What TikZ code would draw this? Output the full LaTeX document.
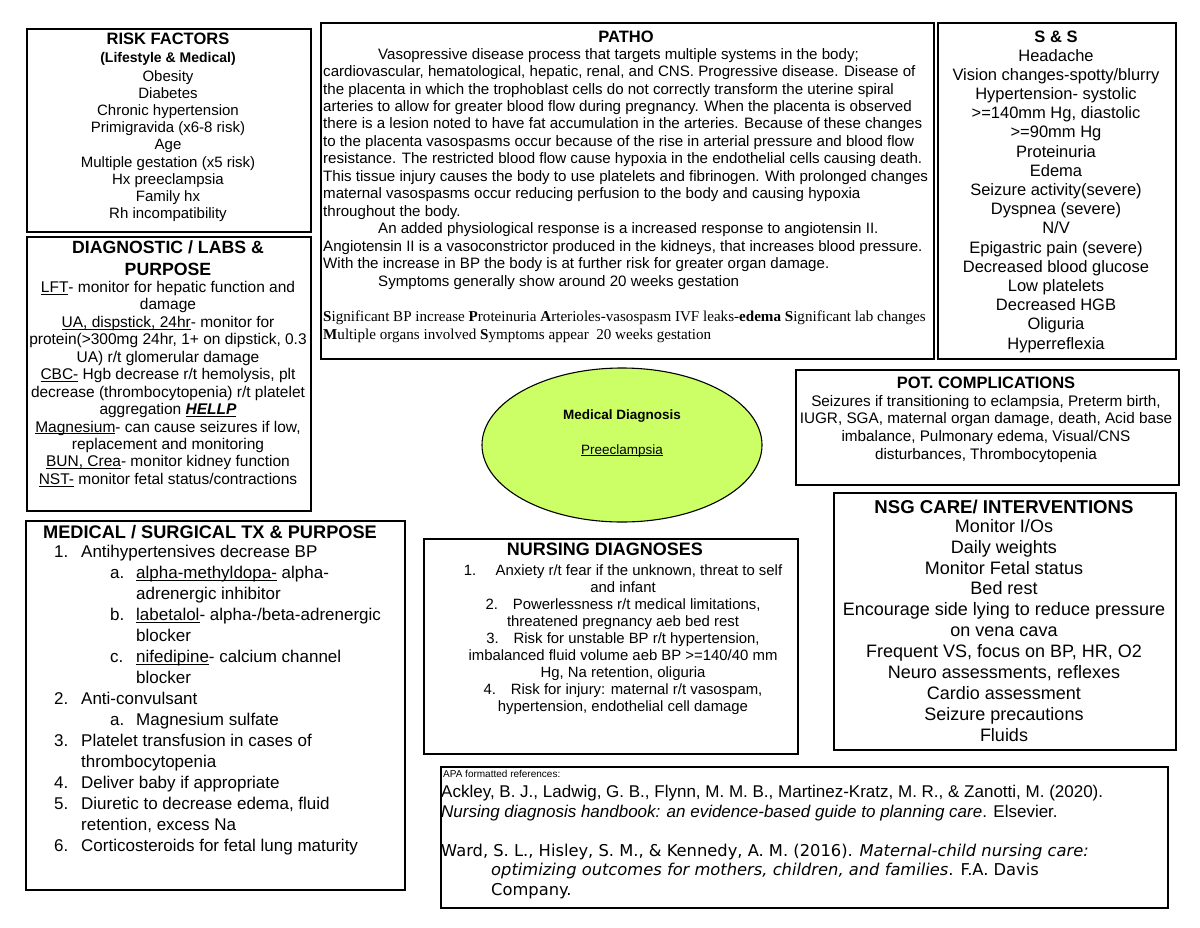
\documentclass[tikz,border=0pt]{standalone}
\usepackage{fontspec}
\setmainfont{Liberation Sans}
\newfontfamily\timesfont{Liberation Serif}
\newfontfamily\verdfont{DejaVu Sans}
\usepackage{xcolor}
\usetikzlibrary{positioning,shapes.geometric}
\definecolor{limefill}{RGB}{204,255,102}
\newcommand{\fsz}[2]{\fontsize{#1}{#2}\selectfont}
\newcommand{\ulx}[1]{\underline{\smash{#1}}}

\begin{document}
\begin{tikzpicture}[
  x=1pt,y=-1pt,
  panel/.style={draw,line width=1.6pt,anchor=north west,inner sep=0pt},
  head/.style={font=\bfseries\fsz{16.5}{22},align=center,inner sep=0pt,anchor=north},
  body/.style={align=center,inner sep=0pt,anchor=north},
  lbody/.style={align=left,inner sep=0pt,anchor=north west}
]
\fill[white] (0,0) rectangle (1200,927);
\useasboundingbox (0,0) rectangle (1200,927);

\node[panel,minimum width=284pt,minimum height=203pt] (risk) at (26,28) {};
\node[panel,minimum width=284pt,minimum height=274pt] (diag) at (26,236) {};
\node[panel,minimum width=379pt,minimum height=369pt] (med) at (25,520) {};
\node[panel,minimum width=613pt,minimum height=336pt] (patho) at (320,22) {};
\node[panel,minimum width=238pt,minimum height=336pt] (ss) at (937,22) {};
\node[panel,minimum width=383pt,minimum height=115pt] (pot) at (795,369) {};
\node[panel,minimum width=342pt,minimum height=257pt] (nsg) at (833,492) {};
\node[panel,minimum width=374pt,minimum height=215pt] (nd) at (423,538) {};
\node[panel,minimum width=727pt,minimum height=141pt] (refs) at (440,766) {};
\node[ellipse,draw,line width=1.1pt,fill=limefill,minimum width=280pt,minimum height=154pt] (dx) at (622,445) {};

\node[head] (riskHead) at (168,33) {RISK FACTORS};
\node[body,font=\bfseries\fsz{14}{16}] (riskSub) at (168,52) {(Lifestyle \& Medical)};
\node[body,font=\fsz{15}{17.2}] (riskList) at (168,70) {Obesity\\Diabetes\\Chronic hypertension\\
  Primigravida (x6-8 risk)\\Age\\Multiple gestation (x5 risk)\\Hx preeclampsia\\Family hx\\
  Rh incompatibility};

\node[head,font=\bfseries\fsz{17.7}{22}] (diagHead) at (168,240) {DIAGNOSTIC / LABS \&\\PURPOSE};
\node[body,font=\fsz{15.5}{17.45}] (diagList) at (168,281) {%
  \ulx{LFT}- monitor for hepatic function and\\damage\\
  \ulx{UA, dispstick, 24hr}- monitor for\\protein(>300mg 24hr, 1+ on dipstick, 0.3\\
  UA) r/t glomerular damage\\\ulx{CBC-} Hgb decrease r/t hemolysis, plt\\
  decrease (thrombocytopenia) r/t platelet\\aggregation \textbf{\textit{\ulx{HELLP}}}\\
  \ulx{Magnesium}- can cause seizures if low,\\replacement and monitoring\\
  \ulx{BUN, Crea}- monitor kidney function\\\ulx{NST-} monitor fetal status/contractions};

\node[head,font=\bfseries\fsz{18.2}{22}] (medHead) at (210,525) {MEDICAL / SURGICAL TX \& PURPOSE};
\node[lbody,font=\fsz{17}{21}] (medList) at (54,545) {%
  \makebox[27pt][l]{1.}Antihypertensives decrease BP\\
  \hspace*{56pt}\makebox[26pt][l]{a.}\ulx{alpha-methyldopa-} alpha-\\
  \hspace*{82pt}adrenergic inhibitor\\
  \hspace*{56pt}\makebox[26pt][l]{b.}\ulx{labetalol}- alpha-/beta-adrenergic\\
  \hspace*{82pt}blocker\\
  \hspace*{56pt}\makebox[26pt][l]{c.}\ulx{nifedipine}- calcium channel\\
  \hspace*{82pt}blocker\\
  \makebox[27pt][l]{2.}Anti-convulsant\\
  \hspace*{56pt}\makebox[26pt][l]{a.}Magnesium sulfate\\
  \makebox[27pt][l]{3.}Platelet transfusion in cases of\\
  \hspace*{27pt}thrombocytopenia\\
  \makebox[27pt][l]{4.}Deliver baby if appropriate\\
  \makebox[27pt][l]{5.}Diuretic to decrease edema, fluid\\
  \hspace*{27pt}retention, excess Na\\
  \makebox[27pt][l]{6.}Corticosteroids for fetal lung maturity};

\node[head] (pathoHead) at (626,31) {PATHO};
\node[lbody,font=\fsz{15.1}{17.46}] (pathoText) at (323,48) {%
  \hspace*{55pt}Vasopressive disease process that targets multiple systems in the body;\\
  cardiovascular, hematological, hepatic, renal, and CNS. Progressive disease. Disease of\\
  the placenta in which the trophoblast cells do not correctly transform the uterine spiral\\
  arteries to allow for greater blood flow during pregnancy. When the placenta is observed\\
  there is a lesion noted to have fat accumulation in the arteries. Because of these changes\\
  to the placenta vasospasms occur because of the rise in arterial pressure and blood flow\\
  resistance. The restricted blood flow cause hypoxia in the endothelial cells causing death.\\
  This tissue injury causes the body to use platelets and fibrinogen. With prolonged changes\\
  maternal vasospasms occur reducing perfusion to the body and causing hypoxia\\
  throughout the body.\\
  \hspace*{55pt}An added physiological response is a increased response to angiotensin II.\\
  Angiotensin II is a vasoconstrictor produced in the kidneys, that increases blood pressure.\\
  With the increase in BP the body is at further risk for greater organ damage.\\
  \hspace*{55pt}Symptoms generally show around 20 weeks gestation};
\node[lbody,font=\timesfont\fsz{15.1}{18}] (pathoKey) at (323,311) {%
  \textbf{S}ignificant BP increase \textbf{P}roteinuria \textbf{A}rterioles-vasospasm IVF leaks-\textbf{edema} \textbf{S}ignificant lab changes\\
  \textbf{M}ultiple organs involved \textbf{S}ymptoms appear~ 20 weeks gestation};

\node[head] (ssHead) at (1056,31) {S \& S};
\node[body,font=\fsz{16.5}{19.2}] (ssList) at (1056,49) {Headache\\Vision changes-spotty/blurry\\
  Hypertension- systolic\\>=140mm Hg, diastolic\\>=90mm Hg\\Proteinuria\\Edema\\
  Seizure activity(severe)\\Dyspnea (severe)\\N/V\\Epigastric pain (severe)\\
  Decreased blood glucose\\Low platelets\\Decreased HGB\\Oliguria\\Hyperreflexia};

\node[head] (potHead) at (986,377) {POT. COMPLICATIONS};
\node[body,font=\fsz{15.3}{17.7}] (potList) at (986,395) {%
  Seizures if transitioning to eclampsia, Preterm birth,\\
  IUGR, SGA, maternal organ damage, death, Acid base\\
  imbalance, Pulmonary edema, Visual/CNS\\disturbances, Thrombocytopenia};

\node[head,font=\bfseries\fsz{18.6}{22}] (nsgHead) at (1004,500) {NSG CARE/ INTERVENTIONS};
\node[body,font=\fsz{18}{20.9}] (nsgList) at (1004,519) {Monitor I/Os\\Daily weights\\
  Monitor Fetal status\\Bed rest\\Encourage side lying to reduce pressure\\on vena cava\\
  Frequent VS, focus on BP, HR, O2\\Neuro assessments, reflexes\\Cardio assessment\\
  Seizure precautions\\Fluids};

\node[head,font=\bfseries\fsz{18}{22}] (ndHead) at (605,543) {NURSING DIAGNOSES};
\node[body,font=\fsz{14.9}{17.1}] (ndList) at (623,564) {%
  1.\hspace{1.3em}Anxiety r/t fear if the unknown, threat to self\\and infant\\
  2.\hspace{1em}Powerlessness r/t medical limitations,\\threatened pregnancy aeb bed rest\\
  3.\hspace{1em}Risk for unstable BP r/t hypertension,\\
  imbalanced fluid volume aeb BP >=140/40 mm\\Hg, Na retention, oliguria\\
  4.\hspace{1em}Risk for injury: maternal r/t vasospam,\\hypertension, endothelial cell damage};

\node[body,font=\bfseries\fsz{13.5}{16}] (dxHead) at (622,410) {Medical Diagnosis};
\node[body,font=\fsz{13.5}{16}] (dxName) at (622,454) {\ulx{Preeclampsia}};

\node[lbody,font=\fsz{10}{12}] (apaHead) at (443,770) {APA formatted references:};
\node[lbody,font=\fsz{17}{20}] (ackley) at (441,785) {%
  Ackley, B. J., Ladwig, G. B., Flynn, M. M. B., Martinez-Kratz, M. R., \& Zanotti, M. (2020).\\
  \textit{Nursing diagnosis handbook: an evidence-based guide to planning care}. Elsevier.};
\node[lbody,font=\verdfont\fsz{16.3}{19.3}] (ward) at (441,844) {%
  Ward, S. L., Hisley, S. M., \& Kennedy, A. M. (2016). \textit{Maternal-child nursing care:}\\
  \hspace*{50pt}\textit{optimizing outcomes for mothers, children, and families}. F.A. Davis\\
  \hspace*{50pt}Company.};
\end{tikzpicture}
\end{document}
